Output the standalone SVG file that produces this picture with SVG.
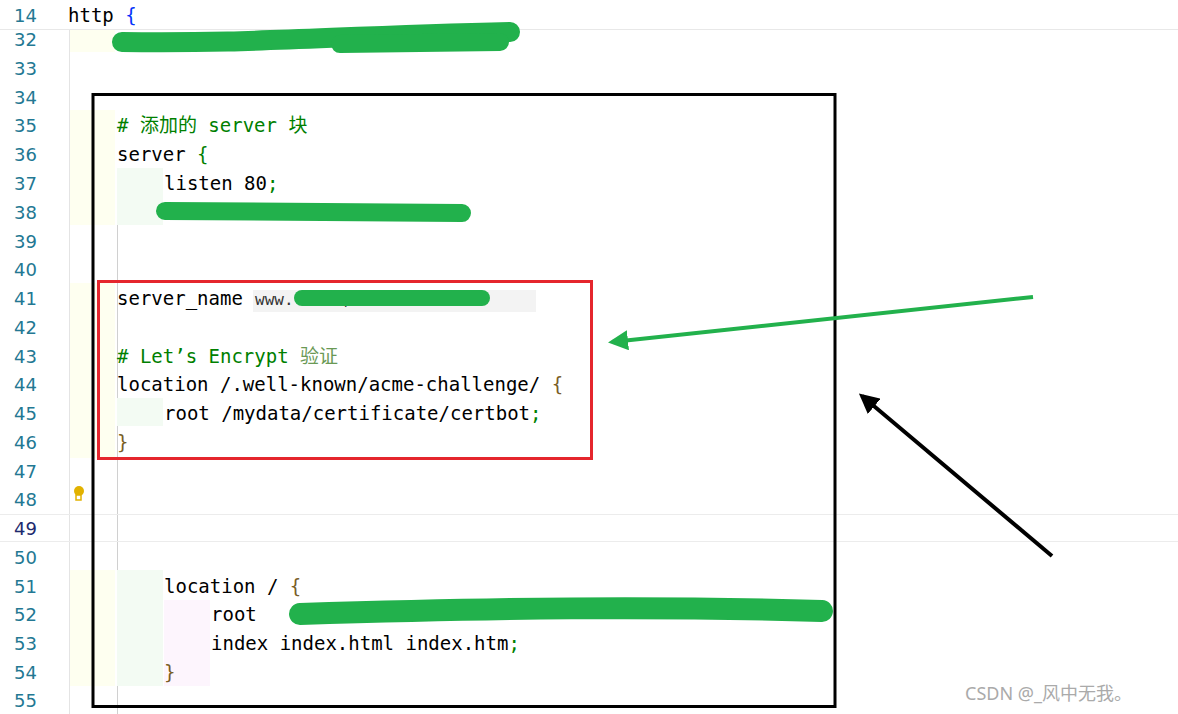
<svg xmlns="http://www.w3.org/2000/svg" width="1178" height="714" viewBox="0 0 1178 714">
<style>
.ln{font-family:"DejaVu Sans",sans-serif;font-size:18px;fill:#237893}
.c{font-family:"DejaVu Sans Mono","Noto Sans CJK SC",monospace;font-size:19px;fill:#000}
.cm{fill:#008000}
.br{fill:#795e26}
.bl{fill:#0431fa}
.scr{stroke:#22b14c;stroke-linecap:round;fill:none}
</style>
<defs>
<marker id="ag" viewBox="0 0 10 10" refX="8" refY="5" markerWidth="5" markerHeight="5" orient="auto"><path d="M0,0L10,5L0,10z" fill="#22b14c"/></marker>
<marker id="ak" viewBox="0 0 10 10" refX="8" refY="5" markerWidth="5" markerHeight="5" orient="auto"><path d="M0,0L10,5L0,10z" fill="#000"/></marker>
</defs>
<rect width="1178" height="714" fill="#fff"/>
<line x1="0" y1="29.5" x2="1178" y2="29.5" stroke="#e8e8e8"/>
<line x1="69.5" y1="30" x2="69.5" y2="714" stroke="#e4e4e4"/>
<line x1="117.5" y1="168" x2="117.5" y2="714" stroke="#d0d0d0"/>
<rect x="70" y="30" width="45" height="22" fill="#fefff0"/>
<rect x="70" y="110" width="45" height="115" fill="#fefff0"/>
<rect x="117" y="168" width="46" height="57" fill="#f3fbf3"/>
<rect x="70" y="283" width="45" height="175" fill="#fefff0"/>
<rect x="117" y="398" width="46" height="28" fill="#f3fbf3"/>
<rect x="70" y="570" width="45" height="116" fill="#fefff0"/>
<rect x="117" y="570" width="46" height="116" fill="#f3fbf3"/>
<rect x="164" y="600" width="46" height="86" fill="#fdf5fd"/>
<line x1="0" y1="514.5" x2="1178" y2="514.5" stroke="#ececec"/>
<line x1="0" y1="541.5" x2="1178" y2="541.5" stroke="#ececec"/>
<g id="linenumbers">
<text class="ln" x="14" y="22">14</text>
<text class="ln" x="14" y="46">32</text>
<text class="ln" x="14" y="75">33</text>
<text class="ln" x="14" y="104">34</text>
<text class="ln" x="14" y="132">35</text>
<text class="ln" x="14" y="161">36</text>
<text class="ln" x="14" y="190">37</text>
<text class="ln" x="14" y="219">38</text>
<text class="ln" x="14" y="248">39</text>
<text class="ln" x="14" y="276">40</text>
<text class="ln" x="14" y="305">41</text>
<text class="ln" x="14" y="334">42</text>
<text class="ln" x="14" y="363">43</text>
<text class="ln" x="14" y="391">44</text>
<text class="ln" x="14" y="420">45</text>
<text class="ln" x="14" y="449">46</text>
<text class="ln" x="14" y="478">47</text>
<text class="ln" x="14" y="506">48</text>
<text class="ln" x="14" y="535" fill="#1e2a6e" style="fill:#1e2a6e">49</text>
<text class="ln" x="14" y="564">50</text>
<text class="ln" x="14" y="593">51</text>
<text class="ln" x="14" y="621">52</text>
<text class="ln" x="14" y="650">53</text>
<text class="ln" x="14" y="679">54</text>
<text class="ln" x="14" y="707">55</text>
</g>
<g id="bulb"><circle cx="79" cy="491" r="5" fill="#e2b200"/><rect x="76" y="495" width="5" height="5" fill="#fff" stroke="#e2b200" stroke-width="1.5"/></g>
<g id="code">
<text class="c" x="68" y="22">http <tspan class="bl">{</tspan></text>
<text class="c cm" x="117" y="132"># 添加的 server 块</text>
<text class="c" x="117" y="161">server <tspan class="cm">{</tspan></text>
<text class="c" x="164" y="190">listen       80<tspan class="cm">;</tspan></text>
<text class="c" x="117" y="305">server_name</text>
<rect x="253" y="290" width="283" height="22" fill="#f3f3f3"/>
<text class="c" x="255" y="305" style="font-size:16px;fill:#333">www.                    .com;</text>
<text class="c cm" x="117" y="363"># Let’s Encrypt <tspan style="fill:#6a9955">验证</tspan></text>
<text class="c" x="117" y="391">location /.well-known/acme-challenge/ <tspan class="br">{</tspan></text>
<text class="c" x="164" y="420">root /mydata/certificate/certbot<tspan class="cm">;</tspan></text>
<text class="c br" x="117" y="449">}</text>
<text class="c" x="164" y="593">location / <tspan class="br">{</tspan></text>
<text class="c" x="211" y="621">root</text>
<text class="c" x="211" y="650">index  index.html index.htm<tspan class="cm">;</tspan></text>
<text class="c br" x="164" y="679">}</text>
</g>
<g id="scribbles">
<path class="scr" stroke-width="20" d="M122,42 C250,44 330,36 510,32"/>
<path class="scr" stroke-width="18" d="M340,44 L500,42"/>
<path class="scr" stroke-width="18" d="M165,211 L462,213"/>
<path class="scr" stroke-width="16" d="M302,298 L482,298"/>
<path class="scr" stroke-width="22" d="M300,614 C500,608 650,606 822,611"/>
</g>
<g id="boxes">
<rect x="93" y="94.5" width="742" height="612" fill="none" stroke="#000" stroke-width="3"/>
<rect x="98.5" y="281.5" width="493" height="177" fill="none" stroke="#e5262d" stroke-width="3"/>
</g>
<g id="connectors">
<line x1="1033" y1="297" x2="612" y2="342" stroke="#22b14c" stroke-width="4" marker-end="url(#ag)"/>
<line x1="1052" y1="556" x2="862" y2="396" stroke="#000" stroke-width="4" marker-end="url(#ak)"/>
</g>
<text x="965" y="700" style="font-family:'Noto Sans','Noto Sans CJK SC',sans-serif;font-size:18px;fill:#aaa">CSDN @_风中无我。</text>
</svg>
